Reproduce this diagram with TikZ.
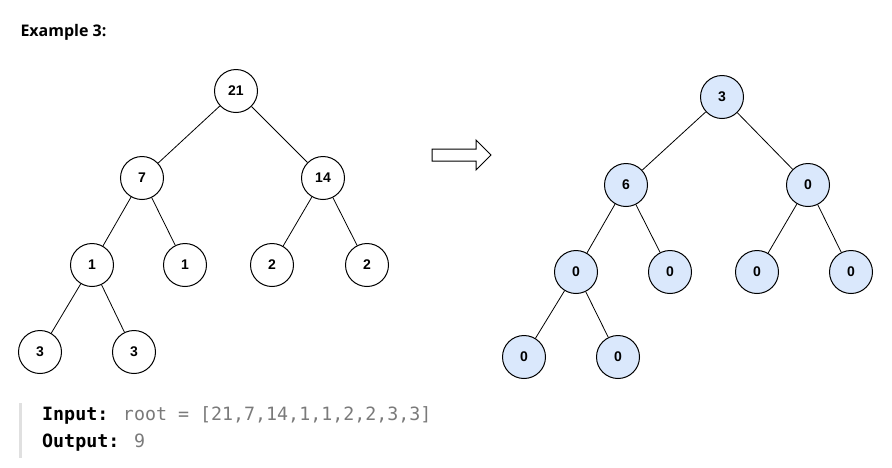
\documentclass[tikz,border=0pt]{standalone}
\usepackage{fontspec}
\setmainfont{Liberation Sans}
\newfontfamily\codefont{DejaVu Sans Mono}
\newfontfamily\titlefont{Open Sans}
\definecolor{nodeblue}{HTML}{DAE8FC}
\definecolor{codegray}{HTML}{7A7A7A}
\begin{document}
\begin{tikzpicture}[x=1pt,y=-1pt,
  tn/.style={circle,draw,line width=1pt,minimum size=43pt,inner sep=0pt,font=\bfseries\fontsize{14}{16}\selectfont},
  bn/.style={tn,fill=nodeblue},
  edge/.style={line width=0.8pt}]
\useasboundingbox (0,0) rectangle (892,467);
\node[anchor=west,font=\titlefont\bfseries\fontsize{16}{18}\selectfont] (title) at (17,32) {Example 3:};
% left tree
\node[tn] (a) at (236,91) {21};
\node[tn] (b) at (142,178) {7};
\node[tn] (c) at (323,178) {14};
\node[tn] (d) at (92,265) {1};
\node[tn] (e) at (185,265) {1};
\node[tn] (f) at (272,265) {2};
\node[tn] (g) at (367,265) {2};
\node[tn] (h) at (40,352) {3};
\node[tn] (i) at (134,352) {3};
\foreach \u/\v in {a/b,a/c,b/d,b/e,c/f,c/g,d/h,d/i} \draw[edge] (\u)--(\v);
% right tree
\node[bn] (A) at (722,97) {3};
\node[bn] (B) at (626,185) {6};
\node[bn] (C) at (808,185) {0};
\node[bn] (D) at (576,272) {0};
\node[bn] (E) at (670,272) {0};
\node[bn] (F) at (757,272) {0};
\node[bn] (G) at (851,272) {0};
\node[bn] (H) at (524,357) {0};
\node[bn] (I) at (618,357) {0};
\foreach \u/\v in {A/B,A/C,B/D,B/E,C/F,C/G,D/H,D/I} \draw[edge] (\u)--(\v);
% arrow
\draw[line width=1pt,line join=miter] (432,149)--(476,149)--(476,140)--(491,155)--(476,170)--(476,161)--(432,161)--cycle;
% code
\fill[black!12] (19,403) rectangle (22,458);
\node[anchor=west,inner sep=0pt,font=\codefont\fontsize{18.3}{20}\selectfont] (inp) at (42,415) {\textbf{Input:} \textcolor{codegray}{root = [21,7,14,1,1,2,2,3,3]}};
\node[anchor=west,inner sep=0pt,font=\codefont\fontsize{18.3}{20}\selectfont] (out) at (42,443) {\textbf{Output:} \textcolor{codegray}{9}};
\end{tikzpicture}
\end{document}
